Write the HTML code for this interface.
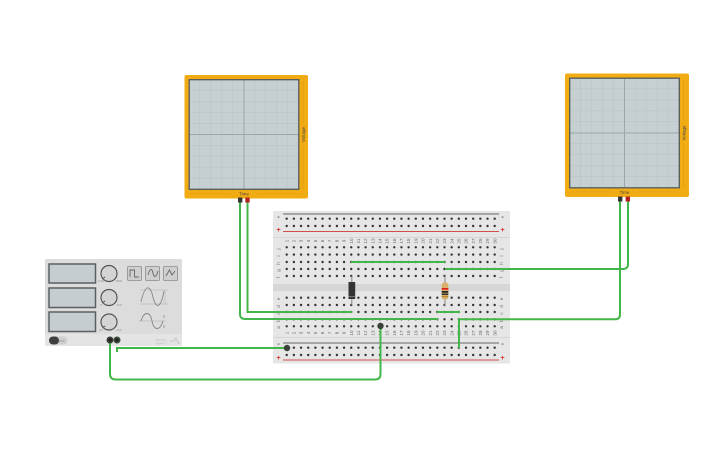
<!DOCTYPE html>
<html><head><meta charset="utf-8"><style>
html,body{margin:0;padding:0;background:#fff;width:725px;height:453px;overflow:hidden}
svg{display:block}
text{font-family:"Liberation Sans",sans-serif}
.n{font-size:4.6px;fill:#666;text-anchor:middle}
.w{fill:none;stroke:#43b649;stroke-width:2}
.dots path{stroke:#333;stroke-width:2.4;stroke-linecap:round;stroke-dasharray:0 7.172;fill:none}
</style></head><body>
<svg width="725" height="453" viewBox="0 0 725 453" xmlns="http://www.w3.org/2000/svg">
<defs>
<pattern id="gr" x="4.7" y="4.7" width="10.96" height="10.96" patternUnits="userSpaceOnUse"><path d="M10.96 0V10.96H0" fill="none" stroke="#b6c1c4" stroke-width=".9"/></pattern>
</defs>

<!-- Scope 1 -->
<g transform="translate(184.5,75)">
<rect width="123.5" height="123.5" rx="2" fill="#f2ac13"/>
<rect x="4.7" y="4.7" width="109.6" height="109.6" fill="#c6d0d3"/>
<rect x="4.7" y="4.7" width="109.6" height="109.6" fill="url(#gr)"/>
<path d="M59.5 4.7V114.3M4.7 59.5H114.3" stroke="#9aa6a9" stroke-width="1"/>
<rect x="4.7" y="4.7" width="109.6" height="109.6" fill="none" stroke="#555b5c" stroke-width="1.3"/>
<path d="M6 118.5H46M73 118.5H114M118.5 6V48M118.5 72V114" stroke="#d9980f" stroke-width=".6"/>
<text x="59.5" y="120.5" font-size="4.5" text-anchor="middle" fill="#444">Time</text>
<text transform="translate(120.5,59.5) rotate(-90)" font-size="4.5" text-anchor="middle" fill="#444">Voltage</text>
</g>
<!-- Scope 2 -->
<g transform="translate(565,73.5)">
<rect width="124" height="123.5" rx="2" fill="#f2ac13"/>
<rect x="4.7" y="4.7" width="109.6" height="109.6" fill="#c6d0d3"/>
<rect x="4.7" y="4.7" width="109.6" height="109.6" fill="url(#gr)"/>
<path d="M59.5 4.7V114.3M4.7 59.5H114.3" stroke="#9aa6a9" stroke-width="1"/>
<rect x="4.7" y="4.7" width="109.6" height="109.6" fill="none" stroke="#555b5c" stroke-width="1.3"/>
<path d="M6 118.5H46M73 118.5H114M118.5 6V48M118.5 72V114" stroke="#d9980f" stroke-width=".6"/>
<text x="59.5" y="120.5" font-size="4.5" text-anchor="middle" fill="#444">Time</text>
<text transform="translate(120.5,59.5) rotate(-90)" font-size="4.5" text-anchor="middle" fill="#444">Voltage</text>
</g>

<!-- Breadboard -->
<rect x="273" y="211" width="237" height="152.5" rx="1" fill="#e6e6e6"/>
<rect x="273" y="237" width="237" height="1" fill="#d6d6d6"/>
<rect x="273" y="337" width="237" height="1" fill="#d6d6d6"/>
<rect x="273" y="284" width="237" height="7" fill="#d6d6d6"/>
<path d="M283 214H499M283 343H499" stroke="#666" stroke-width="1"/>
<path d="M283 231.5H499M283 360H499" stroke="#d0504c" stroke-width="1"/>
<g class="dots">
<path d="M286.7 218.7H497"/>
<path d="M286.7 226H497"/>
<path d="M286.7 247.3H497"/>
<path d="M286.7 254.6H497"/>
<path d="M286.7 262H497"/>
<path d="M286.7 269H497"/>
<path d="M286.7 276H497"/>
<path d="M286.7 297.7H497"/>
<path d="M286.7 305H497"/>
<path d="M286.7 312H497"/>
<path d="M286.7 319.3H497"/>
<path d="M286.7 326.3H497"/>
<path d="M286.7 347.7H497"/>
<path d="M286.7 355H497"/>
</g>
<g font-size="7" text-anchor="middle" font-weight="bold">
<text x="278.5" y="219" fill="#444">-</text><text x="278.5" y="232" fill="#d33">+</text>
<text x="502.5" y="219" fill="#444">-</text><text x="502.5" y="232" fill="#d33">+</text>
<text x="278.5" y="346" fill="#444">-</text><text x="278.5" y="360" fill="#d33">+</text>
<text x="502.5" y="346" fill="#444">-</text><text x="502.5" y="360" fill="#d33">+</text>
</g>
<g>
<text class="n" transform="translate(288.3,241) rotate(-90)">1</text><text class="n" transform="translate(295.5,241) rotate(-90)">2</text><text class="n" transform="translate(302.6,241) rotate(-90)">3</text><text class="n" transform="translate(309.8,241) rotate(-90)">4</text><text class="n" transform="translate(317,241) rotate(-90)">5</text><text class="n" transform="translate(324.2,241) rotate(-90)">6</text><text class="n" transform="translate(331.3,241) rotate(-90)">7</text><text class="n" transform="translate(338.5,241) rotate(-90)">8</text><text class="n" transform="translate(345.7,241) rotate(-90)">9</text><text class="n" transform="translate(352.9,241) rotate(-90)">10</text>
<text class="n" transform="translate(360,241) rotate(-90)">11</text><text class="n" transform="translate(367.2,241) rotate(-90)">12</text><text class="n" transform="translate(374.4,241) rotate(-90)">13</text><text class="n" transform="translate(381.5,241) rotate(-90)">14</text><text class="n" transform="translate(388.7,241) rotate(-90)">15</text><text class="n" transform="translate(395.9,241) rotate(-90)">16</text><text class="n" transform="translate(403.1,241) rotate(-90)">17</text><text class="n" transform="translate(410.2,241) rotate(-90)">18</text><text class="n" transform="translate(417.4,241) rotate(-90)">19</text><text class="n" transform="translate(424.6,241) rotate(-90)">20</text>
<text class="n" transform="translate(431.8,241) rotate(-90)">21</text><text class="n" transform="translate(438.9,241) rotate(-90)">22</text><text class="n" transform="translate(446.1,241) rotate(-90)">23</text><text class="n" transform="translate(453.3,241) rotate(-90)">24</text><text class="n" transform="translate(460.5,241) rotate(-90)">25</text><text class="n" transform="translate(467.6,241) rotate(-90)">26</text><text class="n" transform="translate(474.8,241) rotate(-90)">27</text><text class="n" transform="translate(482,241) rotate(-90)">28</text><text class="n" transform="translate(489.1,241) rotate(-90)">29</text><text class="n" transform="translate(496.3,241) rotate(-90)">30</text>

<text class="n" transform="translate(288.3,333) rotate(-90)">1</text><text class="n" transform="translate(295.5,333) rotate(-90)">2</text><text class="n" transform="translate(302.6,333) rotate(-90)">3</text><text class="n" transform="translate(309.8,333) rotate(-90)">4</text><text class="n" transform="translate(317,333) rotate(-90)">5</text><text class="n" transform="translate(324.2,333) rotate(-90)">6</text><text class="n" transform="translate(331.3,333) rotate(-90)">7</text><text class="n" transform="translate(338.5,333) rotate(-90)">8</text><text class="n" transform="translate(345.7,333) rotate(-90)">9</text><text class="n" transform="translate(352.9,333) rotate(-90)">10</text>
<text class="n" transform="translate(360,333) rotate(-90)">11</text><text class="n" transform="translate(367.2,333) rotate(-90)">12</text><text class="n" transform="translate(374.4,333) rotate(-90)">13</text><text class="n" transform="translate(381.5,333) rotate(-90)">14</text><text class="n" transform="translate(388.7,333) rotate(-90)">15</text><text class="n" transform="translate(395.9,333) rotate(-90)">16</text><text class="n" transform="translate(403.1,333) rotate(-90)">17</text><text class="n" transform="translate(410.2,333) rotate(-90)">18</text><text class="n" transform="translate(417.4,333) rotate(-90)">19</text><text class="n" transform="translate(424.6,333) rotate(-90)">20</text>
<text class="n" transform="translate(431.8,333) rotate(-90)">21</text><text class="n" transform="translate(438.9,333) rotate(-90)">22</text><text class="n" transform="translate(446.1,333) rotate(-90)">23</text><text class="n" transform="translate(453.3,333) rotate(-90)">24</text><text class="n" transform="translate(460.5,333) rotate(-90)">25</text><text class="n" transform="translate(467.6,333) rotate(-90)">26</text><text class="n" transform="translate(474.8,333) rotate(-90)">27</text><text class="n" transform="translate(482,333) rotate(-90)">28</text><text class="n" transform="translate(489.1,333) rotate(-90)">29</text><text class="n" transform="translate(496.3,333) rotate(-90)">30</text>
</g>
<g>
<text class="n" transform="translate(280,249) rotate(-90)">j</text><text class="n" transform="translate(280,256) rotate(-90)">i</text><text class="n" transform="translate(280,263.5) rotate(-90)">h</text><text class="n" transform="translate(280,270.5) rotate(-90)">g</text><text class="n" transform="translate(280,277.5) rotate(-90)">f</text>
<text class="n" transform="translate(280,299) rotate(-90)">e</text><text class="n" transform="translate(280,306.5) rotate(-90)">d</text><text class="n" transform="translate(280,313.5) rotate(-90)">c</text><text class="n" transform="translate(280,320.5) rotate(-90)">b</text><text class="n" transform="translate(280,327.5) rotate(-90)">a</text>
<text class="n" transform="translate(503,249) rotate(-90)">j</text><text class="n" transform="translate(503,256) rotate(-90)">i</text><text class="n" transform="translate(503,263.5) rotate(-90)">h</text><text class="n" transform="translate(503,270.5) rotate(-90)">g</text><text class="n" transform="translate(503,277.5) rotate(-90)">f</text>
<text class="n" transform="translate(503,299) rotate(-90)">e</text><text class="n" transform="translate(503,306.5) rotate(-90)">d</text><text class="n" transform="translate(503,313.5) rotate(-90)">c</text><text class="n" transform="translate(503,320.5) rotate(-90)">b</text><text class="n" transform="translate(503,327.5) rotate(-90)">a</text>
</g>

<!-- Power supply -->
<rect x="45" y="259" width="137" height="87" rx="1.5" fill="#dcdcdc"/>
<rect x="45" y="334" width="137" height="12" rx="1.5" fill="#e4e4e4"/>
<g fill="#c5cdd0" stroke="#5b5f5f" stroke-width="1.5">
<rect x="49" y="264" width="46.5" height="19"/>
<rect x="49" y="288" width="46.5" height="19.5"/>
<rect x="49" y="312" width="46.5" height="19.5"/>
</g>
<g fill="#d4d4d4" stroke="#555" stroke-width="1.2">
<circle cx="109" cy="273.5" r="8"/><circle cx="109" cy="297.5" r="8"/><circle cx="109" cy="322" r="8"/>
</g>
<path d="M105 277l-1.5 1M105 301l-1.5 1M105 326l-1.5 1" stroke="#444" stroke-width="1"/>
<g font-size="2.8" fill="#888" text-anchor="middle">
<text x="101" y="282">0.00</text><text x="119" y="282">5000</text>
<text x="101" y="306">0</text><text x="119" y="306">10.0</text>
<text x="101" y="331">0.0</text><text x="119" y="331">10.0</text>
</g>
<g fill="#cfcfcf" stroke="#8c8c8c" stroke-width=".8">
<rect x="127.5" y="266.5" width="14" height="14" rx="1"/>
<rect x="145.5" y="266.5" width="14" height="14" rx="1"/>
<rect x="163.5" y="266.5" width="14" height="14" rx="1"/>
</g>
<g fill="none" stroke="#666" stroke-width=".9">
<path d="M130 277V270H134.5V277H139"/>
<path d="M148 275C150 268 152 268 153 273C154 278 156 278 158 271"/>
<path d="M166 276L169.5 270L172 275L175 271"/>
<path d="M140 290H168M140 304H168M165 290V304" stroke="#bbb" stroke-width=".7"/>
<path d="M141 302C145 284 150 284 153 297C156 310 161 308 164 291" stroke="#888"/>
<path d="M139 321H165" stroke="#bbb" stroke-width=".7"/>
<path d="M141 321C144 311 150 311 152 321C154 331 160 331 163 321" stroke="#888"/>
<path d="M164 315V318M164 325V328" stroke="#999"/>
</g>
<rect x="49" y="336.5" width="18.5" height="8" rx="4" fill="#cfcfcf"/>
<rect x="49" y="336.5" width="10" height="8" rx="4" fill="#3f3f3f"/>
<text x="62" y="342" font-size="3" fill="#888" text-anchor="middle">OFF</text>
<text x="161" y="341" font-size="2.8" fill="#bbb" text-anchor="middle">DIGITAL</text>
<text x="161" y="344.5" font-size="2.8" fill="#bbb" text-anchor="middle">SUPPLY</text>
<path d="M170 341H174L176 338L178 343H180" fill="none" stroke="#bbb" stroke-width=".7"/>

<!-- IC and resistor -->
<path d="M351.8 276V284M351.8 298V305" stroke="#888" stroke-width="1"/>
<rect x="348.5" y="282" width="6.7" height="17" fill="#333"/>
<rect x="348.5" y="296" width="6.7" height="1" fill="#6c7a80"/>
<path d="M445 276V284M445 298V306" stroke="#888" stroke-width="1"/>
<rect x="441.7" y="282.5" width="6.6" height="17" rx="2.5" fill="#d9b16c"/>
<rect x="441.7" y="288" width="6.6" height="1.7" fill="#e01d1d"/>
<rect x="441.7" y="291" width="6.6" height="1.7" fill="#222"/>
<rect x="441.7" y="293.5" width="6.6" height="1.4" fill="#222"/>
<rect x="441.7" y="296" width="6.6" height="1.2" fill="#b8862e"/>

<!-- Wires -->
<path class="w" d="M240 201V314Q240 319 245 319H438"/>
<path class="w" d="M247.5 201V312H352.5"/>
<path class="w" d="M351 262H445"/>
<path class="w" d="M445 269H623Q628 269 628 264V201"/>
<path class="w" d="M620 201V314.5Q620 319.3 615 319.3H459V348"/>
<path class="w" d="M437 312H460"/>
<path class="w" d="M117 352V348H287"/>
<path class="w" d="M110 341V374Q110 379.5 116 379.5H375Q380.5 379.5 380.5 374V326"/>

<!-- Terminals -->
<circle cx="110" cy="340" r="3.5" fill="#3a3a34"/><circle cx="110" cy="340" r="1.6" fill="#1f1f1f"/>
<circle cx="117" cy="340" r="3.5" fill="#3d4a38"/><circle cx="117" cy="340" r="1.6" fill="#1f1f1f"/>
<circle cx="287" cy="348" r="3.2" fill="#384238"/>
<circle cx="380.5" cy="326" r="3.2" fill="#384238"/>
<rect x="238" y="197.5" width="4.4" height="5" fill="#333"/>
<rect x="245.3" y="197.5" width="4.4" height="5" fill="#b5201e"/>
<rect x="618" y="196.5" width="4.4" height="5" fill="#333"/>
<rect x="625.6" y="196.5" width="4.4" height="5" fill="#b5201e"/>
</svg>
</body></html>
